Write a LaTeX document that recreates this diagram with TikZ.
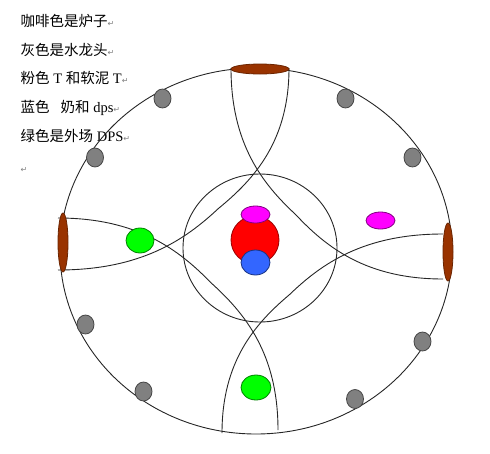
\documentclass[tikz,border=0pt]{standalone}
\usepackage{fontspec}
\setmainfont{Liberation Serif}
\newfontfamily\cjk{Noto Sans CJK SC}
\newfontfamily\symf{DejaVu Sans}
\usetikzlibrary{shapes.geometric}
\definecolor{brownc}{RGB}{153,51,0}
\definecolor{grayc}{RGB}{128,128,128}
\definecolor{bluec}{RGB}{51,102,255}
\definecolor{greenc}{RGB}{0,255,0}
\definecolor{magc}{RGB}{255,0,255}
\definecolor{redc}{RGB}{255,0,0}
\newcommand{\retmark}{{\symf\fontsize{8}{9}\selectfont\color{gray}↵}}
\tikzset{
  blob/.style={ellipse, inner sep=0pt, line width=0.8pt},
  brownblob/.style={blob, fill=brownc, draw=brownc!70!black},
  grayblob/.style={blob, fill=grayc, draw=grayc!55!black, minimum width=17pt, minimum height=19pt},
  legend/.style={anchor=base west, inner sep=0pt, font=\fontsize{14.5}{17}\selectfont},
  wire/.style={line width=0.9pt, black!85},
}
\begin{document}
\begin{tikzpicture}[x=1pt, y=-1pt]
\useasboundingbox (0,0) rectangle (490,453);
% legend
\node[legend] (t1) at (20.5,26.5) {{\cjk 咖啡色是炉子}\retmark};
\node[legend] (t2) at (20.5,55.2) {{\cjk 灰色是水龙头}\retmark};
\node[legend] (t3) at (20.5,83.9) {{\cjk 粉色} T {\cjk 和软泥} T\retmark};
\node[legend] (t4) at (20.5,112.6) {{\cjk 蓝色}\hspace{11pt}{\cjk 奶和} dps\retmark};
\node[legend] (t5) at (20.5,141.3) {{\cjk 绿色是外场} DPS\retmark};
\node[legend] (t6) at (20.5,172) {\retmark};
% outer and inner rings
\draw[wire] (256,251) ellipse [x radius=196, y radius=183];
\draw[wire] (260,248) ellipse [x radius=77, y radius=74];
% curve end points
\coordinate (lbt) at (58,218);
\coordinate (lbb) at (58,270);
\coordinate (tbl) at (231,68);
\coordinate (tbr) at (289,68);
\coordinate (rbt) at (443,234);
\coordinate (rbb) at (443,279);
\coordinate (bl) at (222,433);
\coordinate (br) at (278,430);
% passage curves
\draw[wire] (lbb) .. controls (141.2,270) and (185.1,239.7) .. (218.5,208.4)
                  .. controls (254.4,179.1) and (289,140.7) .. (tbr);
\draw[wire] (rbb) .. controls (366.7,279) and (326.4,247.4) .. (295.7,214.6)
                  .. controls (262.8,184.1) and (231,144) .. (tbl);
\draw[wire] (rbt) .. controls (363.4,234) and (321.4,263.9) .. (289.4,294.7)
                  .. controls (255.1,323.6) and (222,361.4) .. (bl);
\draw[wire] (lbt) .. controls (137.2,218) and (179,249.8) .. (210.9,282.7)
                  .. controls (245,313.4) and (278,353.7) .. (br);
% stoves
\node[brownblob, minimum width=10pt, minimum height=59pt] (lb) at (63,242.5) {};
\node[brownblob, minimum width=10pt, minimum height=58pt] (rb) at (448,252) {};
\node[brownblob, minimum width=58pt, minimum height=10pt] (tb) at (260,69) {};
% taps
\node[grayblob] (g1) at (162.5,98.5) {};
\node[grayblob] (g2) at (345.5,98.5) {};
\node[grayblob] (g3) at (95,157.5) {};
\node[grayblob] (g4) at (412.5,157.5) {};
\node[grayblob] (g5) at (85.5,324.5) {};
\node[grayblob] (g6) at (422.5,341.5) {};
\node[grayblob] (g7) at (143.5,391.5) {};
\node[grayblob] (g8) at (355,399) {};
% centre
\node[blob, fill=redc, draw=redc!60!black, minimum width=48pt, minimum height=48pt] (red) at (255,240) {};
\node[blob, fill=magc, draw=magc!50!black, minimum width=29pt, minimum height=17pt] (m1) at (255.5,214.5) {};
\node[blob, fill=bluec, draw=bluec!50!black, minimum width=29pt, minimum height=25pt] (blue) at (255.5,262.5) {};
\node[blob, fill=magc, draw=magc!50!black, minimum width=29pt, minimum height=17pt] (m2) at (380.5,220.5) {};
% outside dps
\node[blob, fill=greenc, draw=greenc!50!black, minimum width=28pt, minimum height=25pt] (gr1) at (140,240.5) {};
\node[blob, fill=greenc, draw=greenc!50!black, minimum width=30pt, minimum height=25pt] (gr2) at (256,387.5) {};
\end{tikzpicture}
\end{document}
